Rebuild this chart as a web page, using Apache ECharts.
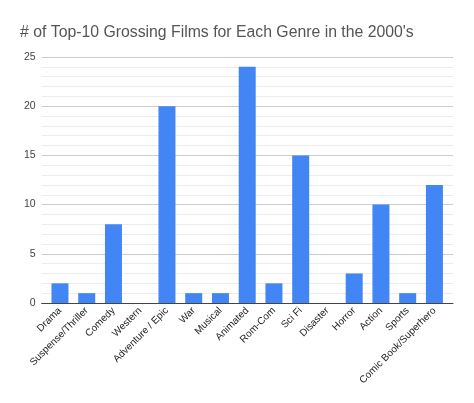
<!DOCTYPE html>
<html>
<head>
<meta charset="utf-8">
<script src="https://cdn.jsdelivr.net/npm/echarts@6/dist/echarts.min.js"></script>
<style>
  html, body { margin: 0; padding: 0; background: #fff; }
  #chart { width: 474px; height: 403px; }
</style>
</head>
<body>
<div id="chart"></div>
<script>
const genres = ['Drama', 'Suspense/Thriller', 'Comedy', 'Western', 'Adventure / Epic', 'War', 'Musical',
  'Animated', 'Rom-Com', 'Sci Fi', 'Disaster', 'Horror', 'Action', 'Sports', 'Comic Book/Superhero']
const films = [2, 1, 8, 0, 20, 1, 1, 24, 2, 15, 0, 3, 10, 1, 12]
const yTicks = [0, 5, 10, 15, 20, 25]

const chart = echarts.init(document.getElementById('chart'))

// grid 0 = full frame (gridlines, y labels, baseline); grid 1 = inset so bars get an outer gap like the original
chart.setOption({
  animation: false,
  textStyle: { fontFamily: 'Liberation Sans, Arial, sans-serif' },
  title: {
    text: "# of Top-10 Grossing Films for Each Genre in the 2000's",
    left: 15,
    top: 20,
    textStyle: { fontSize: 15.8, fontWeight: 'normal', color: '#555' },
  },
  grid: [
    { left: 41.7, right: 21, top: 57, bottom: 100, outerBoundsMode: 'none' },
    { left: 46.6, right: 26.2, top: 57, bottom: 100, outerBoundsMode: 'none' },
  ],
  xAxis: [{
    gridIndex: 0,
    type: 'category',
    data: genres,
    axisTick: { show: false },
    axisLabel: { show: false },
    axisLine: { lineStyle: { color: '#444', width: 1 } },
  }, {
    gridIndex: 1,
    type: 'category',
    data: genres,
    axisTick: { show: false },
    axisLine: { show: false },
    axisLabel: { rotate: 45, interval: 0, fontSize: 10, color: '#222', margin: 6, padding: [0, 0, 0, 0] },
  }],
  yAxis: [{
    gridIndex: 0,
    type: 'value',
    min: yTicks[0],
    max: yTicks[yTicks.length - 1],
    interval: 5,
    axisLabel: { fontSize: 10.5, color: '#444', margin: 6 },
    splitLine: { lineStyle: { color: '#ccc' } },
    minorTick: { show: false, splitNumber: 5 },
    minorSplitLine: { show: true, lineStyle: { color: '#ececec' } },
  }, {
    gridIndex: 1,
    type: 'value',
    min: yTicks[0],
    max: yTicks[yTicks.length - 1],
    interval: 5,
    show: false,
    splitLine: { show: false },
  }],
  series: [{
    type: 'bar',
    xAxisIndex: 1,
    yAxisIndex: 1,
    data: films,
    barWidth: 17,
    itemStyle: { color: '#4285f4' },
  }],
})
</script>
</body>
</html>
